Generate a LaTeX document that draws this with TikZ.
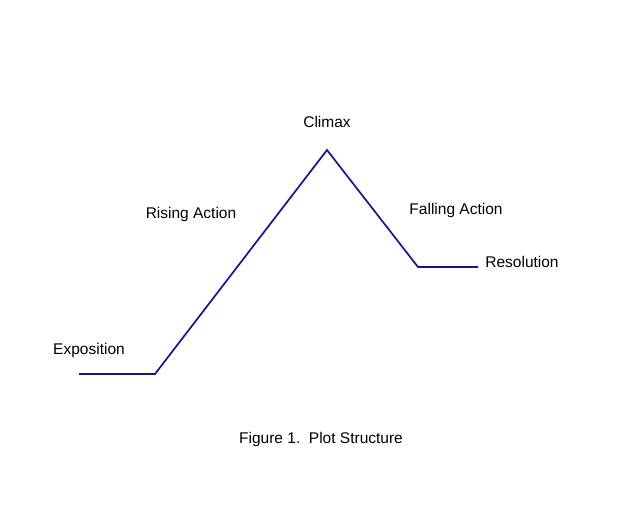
\documentclass[tikz,border=0pt]{standalone}
\usepackage{fontspec}
\setmainfont{Liberation Sans}
\definecolor{plotblue}{RGB}{20,20,140}
\begin{document}
\begin{tikzpicture}[x=1pt,y=-1pt,
  lbl/.style={font=\fontsize{15.5}{18}\selectfont, text=black, inner sep=0pt},
  plotline/.style={draw=plotblue, line width=1.7pt, line join=miter}]
\useasboundingbox[fill=white] (0,0) rectangle (640,512);
\coordinate (e0) at (79,374);
\coordinate (e1) at (155,374);
\coordinate (c) at (327,150);
\coordinate (f) at (418,267);
\coordinate (r) at (478,267);
\draw[plotline] (e0) -- (e1) -- (c) -- (f) -- (r);
\node[lbl] (expo) at (89,350) {Exposition};
\node[lbl] (rise) at (191,214) {Rising Action};
\node[lbl] (clim) at (327,122) {Climax};
\node[lbl] (fall) at (456,210) {Falling Action};
\node[lbl] (reso) at (522,262) {Resolution};
\node[lbl] (cap) at (321,439) {Figure 1.\ \ Plot Structure};
\end{tikzpicture}
\end{document}
